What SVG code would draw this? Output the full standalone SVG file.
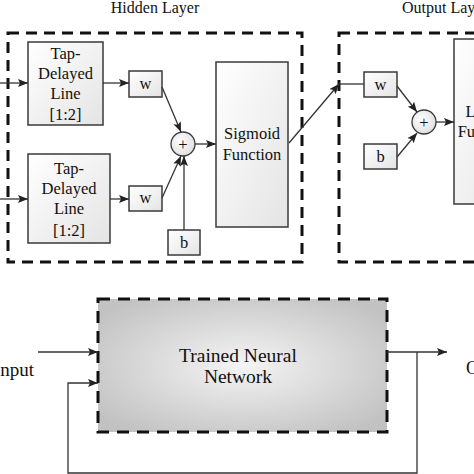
<svg xmlns="http://www.w3.org/2000/svg" width="474" height="474" viewBox="0 0 474 474">
<defs>
<linearGradient id="boxg" x1="0" y1="0" x2="1" y2="1">
<stop offset="0" stop-color="#ffffff"/>
<stop offset="1" stop-color="#e4e4e4"/>
</linearGradient>
<radialGradient id="circg" cx="0.4" cy="0.4" r="0.7">
<stop offset="0" stop-color="#ffffff"/>
<stop offset="1" stop-color="#dcdcdc"/>
</radialGradient>
<radialGradient id="nng" cx="0.5" cy="0.5" r="0.62">
<stop offset="0" stop-color="#f4f4f4"/>
<stop offset="1" stop-color="#c2c2c2"/>
</radialGradient>
<marker id="ah" markerUnits="userSpaceOnUse" markerWidth="11" markerHeight="8" refX="10" refY="4" orient="auto">
<path d="M0,0 L10,4 L0,8 L2,4 z" fill="#222"/>
</marker>
</defs>
<style>
text{font-family:"Liberation Serif","Times New Roman",serif;fill:#111}
.lbl{font-size:16.5px;text-anchor:middle}
.big{font-size:19.5px;text-anchor:middle}
.box{fill:url(#boxg);stroke:#3a3a3a;stroke-width:1.5}
.circ{fill:url(#circg);stroke:#3a3a3a;stroke-width:1.3}
.dash{fill:none;stroke:#111;stroke-width:3;stroke-dasharray:11 7}
.c{fill:none;stroke:#333;stroke-width:1.3}
.ca{fill:none;stroke:#333;stroke-width:1.3;marker-end:url(#ah)}
</style>
<rect width="474" height="474" fill="#ffffff"/>

<g id="hidden-layer">
<text x="155" y="13" style="font-size:16px;text-anchor:middle">Hidden Layer</text>
<rect class="dash" x="8" y="33" width="294" height="229"/>
</g>
<g id="output-layer">
<text x="402" y="13" style="font-size:16px">Output Layer</text>
<rect class="dash" x="339" y="33" width="160" height="229"/>
</g>

<g id="tdl1">
<rect class="box" x="28" y="42" width="75" height="83"/>
<text class="lbl" x="65.5" y="59">Tap-</text>
<text class="lbl" x="65.5" y="79">Delayed</text>
<text class="lbl" x="65.5" y="99">Line</text>
<text class="lbl" x="65.5" y="120">[1:2]</text>
</g>
<g id="tdl2">
<rect class="box" x="28" y="154" width="82" height="89"/>
<text class="lbl" x="69" y="174">Tap-</text>
<text class="lbl" x="69" y="194">Delayed</text>
<text class="lbl" x="69" y="214">Line</text>
<text class="lbl" x="69" y="236">[1:2]</text>
</g>
<g id="w1">
<rect class="box" x="129" y="71" width="33" height="26"/>
<text class="lbl" x="145.5" y="89">w</text>
</g>
<g id="w2">
<rect class="box" x="129" y="186" width="33" height="25"/>
<text class="lbl" x="145.5" y="203">w</text>
</g>
<g id="b1">
<rect class="box" x="168" y="230" width="32" height="25"/>
<text class="lbl" x="184" y="248">b</text>
</g>
<g id="sum1">
<circle class="circ" cx="183" cy="144" r="12"/>
<text class="lbl" x="183" y="150">+</text>
</g>
<g id="sigmoid">
<rect class="box" x="216" y="62" width="72" height="165"/>
<text class="lbl" x="252" y="139">Sigmoid</text>
<text class="lbl" x="252" y="160">Function</text>
</g>
<g id="w3">
<rect class="box" x="364" y="72" width="33" height="25"/>
<text class="lbl" x="380.5" y="90">w</text>
</g>
<g id="b2">
<rect class="box" x="364" y="144" width="33" height="25"/>
<text class="lbl" x="380.5" y="162">b</text>
</g>
<g id="sum2">
<circle class="circ" cx="424" cy="122" r="12"/>
<text class="lbl" x="424" y="128">+</text>
</g>
<g id="linear">
<rect class="box" x="454" y="39" width="70" height="165"/>
<text class="lbl" x="487" y="117">Linear</text>
<text class="lbl" x="487" y="137">Function</text>
</g>

<g id="trained-nn">
<rect x="98" y="299" width="289" height="133" fill="url(#nng)" stroke="#111" stroke-width="3" stroke-dasharray="12 8"/>
<text class="big" x="238" y="362">Trained Neural</text>
<text class="big" x="238" y="383">Network</text>
</g>
<g id="labels">
<text x="34" y="376" style="font-size:19px;text-anchor:end">Input</text>
<text x="466" y="374" style="font-size:18px">Output</text>
</g>

<g id="connectors">
<line class="ca" x1="0" y1="83" x2="28" y2="83"/>
<line class="ca" x1="0" y1="199" x2="28" y2="199"/>
<line class="ca" x1="103" y1="83" x2="129" y2="83"/>
<line class="ca" x1="110" y1="199" x2="129" y2="199"/>
<line class="ca" x1="162" y1="87" x2="181" y2="132"/>
<line class="ca" x1="162" y1="198" x2="181" y2="156"/>
<line class="ca" x1="184" y1="230" x2="184" y2="156"/>
<line class="ca" x1="195" y1="144" x2="216" y2="144"/>
<line class="ca" x1="289" y1="143" x2="339" y2="84"/>
<line class="c" x1="339" y1="84" x2="364" y2="84"/>
<line class="ca" x1="397" y1="86" x2="417" y2="112"/>
<line class="ca" x1="397" y1="157" x2="417" y2="133"/>
<line class="ca" x1="436" y1="122" x2="454" y2="122"/>
<line class="ca" x1="38" y1="352" x2="98" y2="352"/>
<line class="ca" x1="387" y1="352" x2="447" y2="352"/>
<polyline class="ca" points="417,352 417,473 68,473 68,383 98,383"/>
</g>
</svg>
